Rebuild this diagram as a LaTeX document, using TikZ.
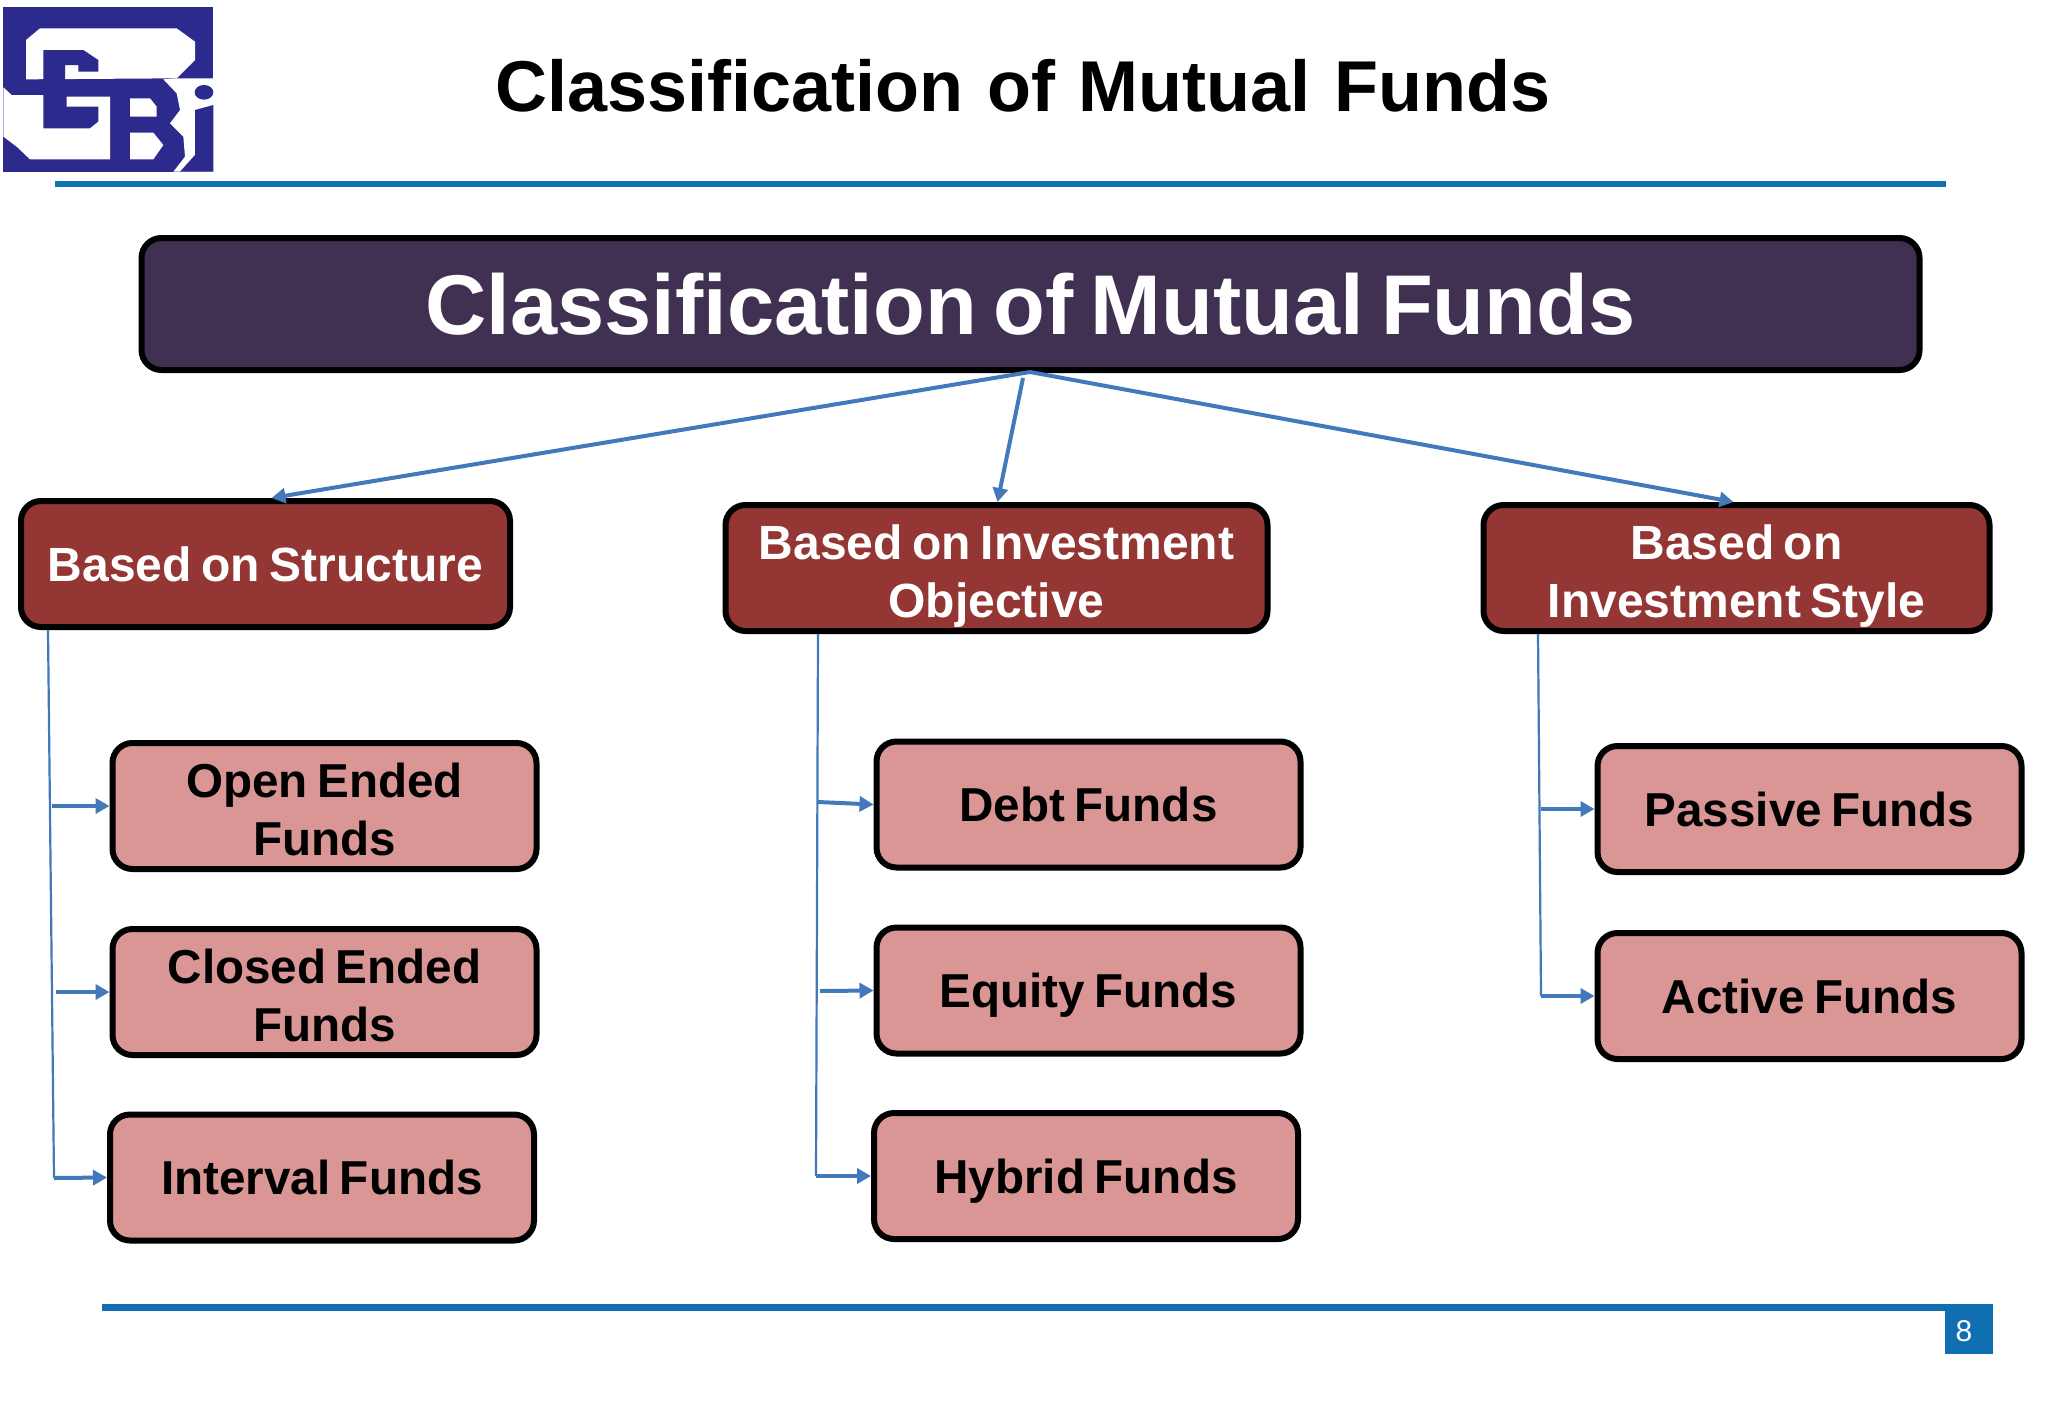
\documentclass[tikz,border=0pt]{standalone}
\usepackage{fontspec}
\setmainfont{Liberation Sans}
\usetikzlibrary{arrows.meta}
\definecolor{titlefill}{HTML}{403152}
\definecolor{catfill}{HTML}{943634}
\definecolor{leaffill}{HTML}{D99694}
\definecolor{linkblue}{HTML}{4279BA}
\definecolor{rulebold}{HTML}{0F6FB0}
\definecolor{logoblue}{HTML}{2D2A8E}
\newcommand\tg{\spaceskip=0.2em\relax}
\newcommand\wg{\spaceskip=0.33em\relax}
\newcommand\evn{\tg\rule[-0.25em]{0pt}{1.22em}}
\newcommand\twoL[2]{\tg\rule{0pt}{1.09em}#1\\\tg\rule[-0.25em]{0pt}{0.97em}#2}
\tikzset{
  boxbase/.style={draw=black,line width=3pt,rounded corners=10pt,align=center,inner sep=0pt,outer sep=1.5pt},
  titlebox/.style={boxbase,fill=titlefill,text=white,minimum width=889pt,minimum height=66pt,font=\fontsize{42.4}{48}\bfseries},
  catbox/.style={boxbase,fill=catfill,text=white,minimum height=63pt,font=\fontsize{24}{29}\bfseries},
  leafbox/.style={boxbase,fill=leaffill,text=black,minimum width=212pt,minimum height=63pt,font=\fontsize{23.8}{29}\bfseries},
  trunk/.style={draw=linkblue,line width=1.1pt},
  link/.style={draw=linkblue,line width=2pt,-{Triangle[length=7pt,width=7.5pt]}},
  rulebar/.style={fill=rulebold,draw=none},
  logopart/.style={fill=logoblue,draw=none},
  logogap/.style={fill=white,draw=none}
}
\begin{document}
\begin{tikzpicture}[x=0.5pt,y=-0.5pt]
\useasboundingbox (0,0) rectangle (2048,1418);
\fill[white] (0,0) rectangle (2048,1418);

% logo
\begin{scope}[x=0.16667pt,y=-0.16667pt]
  \fill[logopart] (10,22) rectangle (640,515);
  \fill[logogap] (120,85)--(530,85)--(585,125)--(585,180)--(530,235)--(78,238)--(78,120)--cycle;
  \fill[logopart] (130,150)--(250,150)--(295,180)--(295,215)--(235,215)--(235,195)--(195,195)--(195,245)--(130,245)--cycle;
  \fill[logogap] (10,262)--(35,285)--(130,285)--(130,385)--(270,385)--(295,365)--(295,320)--(200,320)--(200,290)--(330,290)--(330,478)--(90,478)--(50,440)--(10,410)--cycle;
  \fill[logogap] (390,295)--(450,295)--(470,320)--(470,350)--(390,350)--cycle;
  \fill[logogap] (390,398)--(460,398)--(490,435)--(460,478)--(390,478)--cycle;
  \fill[logogap] (645,235)--(530,235)--(490,238)--(530,280)--(540,330)--(510,370)--(550,410)--(555,470)--(520,515)--(645,515)--cycle;
  \fill[logopart] (585,330)--(640,315)--(640,515)--(540,515)--(585,465)--cycle;
  \fill[logopart] (612,277) ellipse [x radius=28,y radius=22];
\end{scope}

\node[font=\fontsize{36}{42}\bfseries,inner sep=0pt] (heading) at (1023,86) {\evn\wg Classification of Mutual Funds};
\fill[rulebar] (55,181) rectangle (1946,187);
\fill[rulebar] (102,1304) rectangle (1946,1311);
\fill[rulebar] (1945,1304) rectangle (1993,1354);
\node[text=white,font=\fontsize{15}{18}\selectfont,inner sep=0pt] (pagenum) at (1964,1331) {8};

\node[titlebox] (main) at (1030.5,304) {\evn Classification of Mutual Funds};

\node[catbox,minimum width=244.5pt] (structure) at (265.5,564) {\evn Based on Structure};
\node[catbox,minimum width=271pt] (objective) at (996.5,568) {\twoL{Based on Investment}{Objective}};
\node[catbox,minimum width=253pt] (style) at (1736.5,568) {\twoL{Based on}{Investment Style}};

\node[leafbox] (open) at (324.5,806) {\twoL{Open Ended}{Funds}};
\node[leafbox] (closed) at (324.5,992) {\twoL{Closed Ended}{Funds}};
\node[leafbox] (interval) at (322,1177.5) {\evn Interval Funds};
\node[leafbox] (debt) at (1088.5,804.5) {\evn Debt Funds};
\node[leafbox] (equity) at (1088.5,990.5) {\evn Equity Funds};
\node[leafbox] (hybrid) at (1086,1176) {\evn Hybrid Funds};
\node[leafbox] (passive) at (1809.5,809) {\evn Passive Funds};
\node[leafbox] (active) at (1809.5,996) {\evn Active Funds};

% connectors from the title
\coordinate (apex) at (1030,372);
\coordinate (midstart) at (1023,378);
\draw[link] (apex) -- ([xshift=3pt]structure.north);
\draw[link] (midstart) -- ([xshift=0.5pt]objective.north);
\draw[link] (apex) -- ([xshift=-1.5pt]style.north);

% structure branch
\coordinate (s1) at (52,806);
\coordinate (s2) at (56,992);
\coordinate (s3) at (54,1178);
\draw[trunk] ([xshift=15pt]structure.south west) -- (s3);
\draw[link] (s1) -- (open.west);
\draw[link] (s2) -- (closed.west);
\draw[link] (s3) -- (interval.west);

% objective branch
\coordinate (o1) at (818,802);
\coordinate (o2) at (820,991);
\coordinate (o3) at (816,1176);
\draw[trunk] ([xshift=47.75pt]objective.south west) -- (o3);
\draw[link] (o1) -- (debt.west);
\draw[link] (o2) -- (equity.west);
\draw[link] (o3) -- (hybrid.west);

% style branch
\coordinate (y1) at (1541,809);
\coordinate (y2) at (1541,996);
\draw[trunk] ([xshift=28.75pt]style.south west) -- (y2);
\draw[link] (y1) -- (passive.west);
\draw[link] (y2) -- (active.west);
\end{tikzpicture}
\end{document}
